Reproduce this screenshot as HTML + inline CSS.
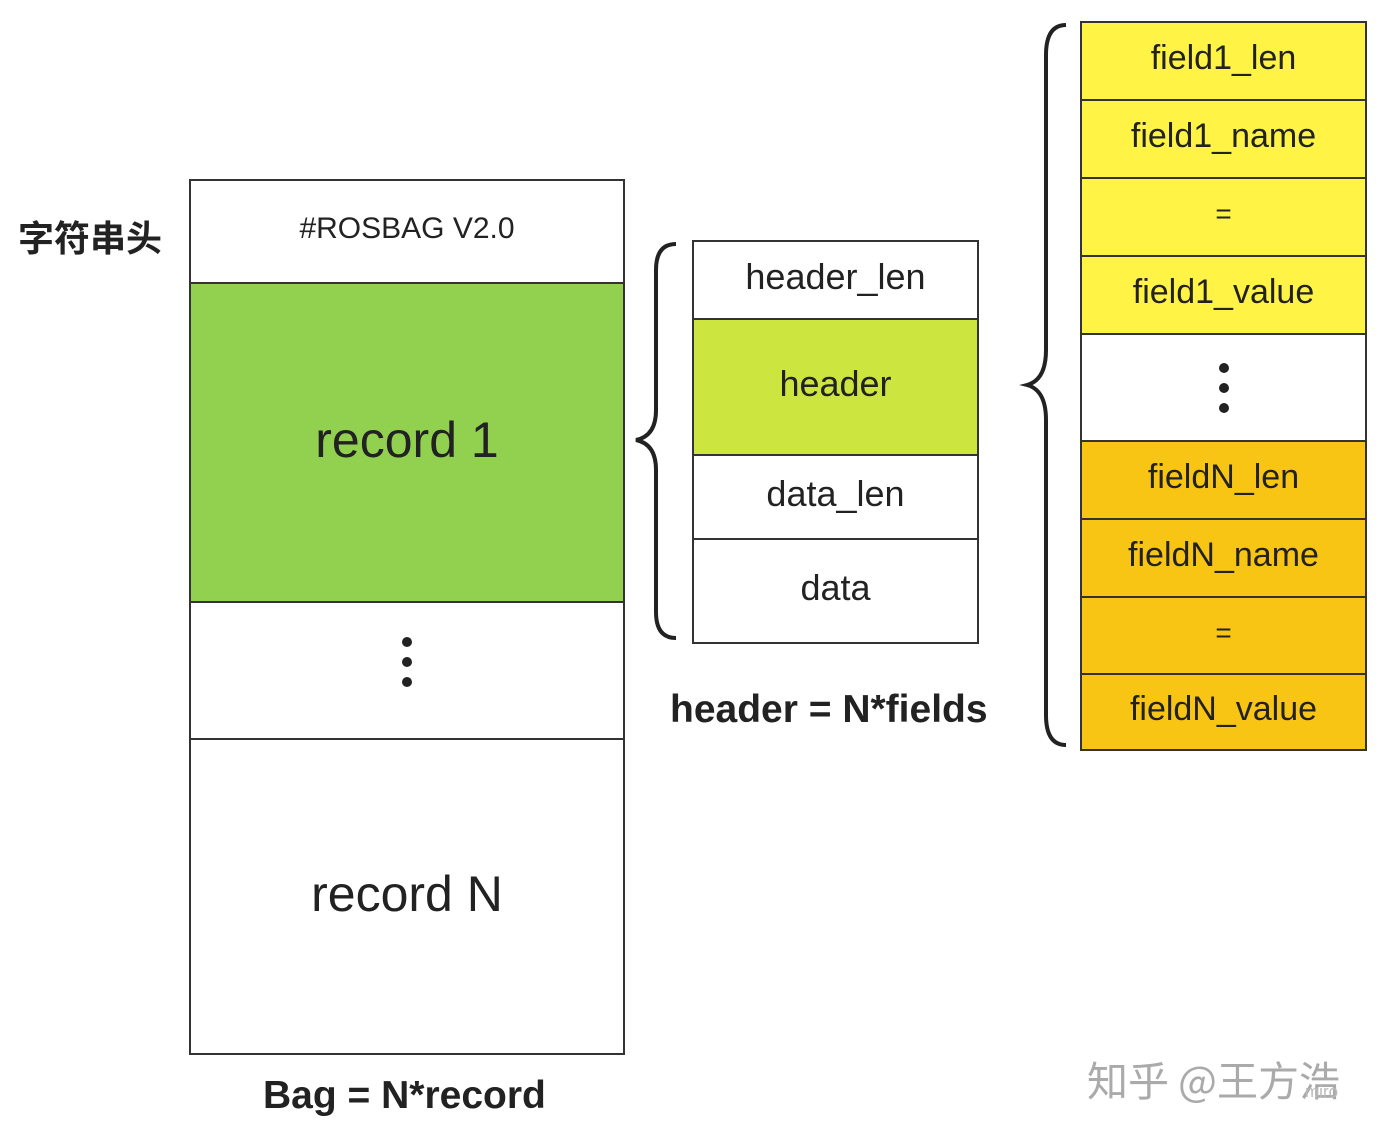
<!DOCTYPE html>
<html><head><meta charset="utf-8"><style>
body{margin:0;width:1380px;height:1131px;background:#fff;position:relative;overflow:hidden;font-family:"Liberation Sans","Noto Sans CJK SC",sans-serif;color:#222}
.b{position:absolute;box-sizing:border-box;border:2px solid #333;display:flex;align-items:center;justify-content:center;text-align:center;padding-bottom:6px}
.t{position:absolute;font-weight:bold;white-space:nowrap}
</style></head><body>
<div class="t" style="left:18px;top:210px;font-size:36px;color:#222">字符串头</div>
<div class="b" style="left:189px;top:179px;width:436px;height:105px;font-size:30px">#ROSBAG V2.0</div>
<div class="b" style="left:189px;top:282px;width:436px;height:321px;background:#92d050;font-size:50px">record 1</div>
<div class="b" style="left:189px;top:601px;width:436px;height:139px;padding-bottom:18px"><svg width="12" height="52"><circle cx="6" cy="6" r="5" fill="#222"/><circle cx="6" cy="26" r="5" fill="#222"/><circle cx="6" cy="46" r="5" fill="#222"/></svg></div>
<div class="b" style="left:189px;top:738px;width:436px;height:317px;font-size:50px">record N</div>
<div class="t" style="left:263px;top:1074px;font-size:39px">Bag = N*record</div>

<div class="b" style="left:692px;top:240px;width:287px;height:80px;font-size:36px">header_len</div>
<div class="b" style="left:692px;top:318px;width:287px;height:138px;background:#cde63f;font-size:36px">header</div>
<div class="b" style="left:692px;top:454px;width:287px;height:86px;font-size:36px">data_len</div>
<div class="b" style="left:692px;top:538px;width:287px;height:106px;font-size:36px">data</div>
<div class="t" style="left:670px;top:688px;font-size:39px">header = N*fields</div>

<div class="b" style="left:1080px;top:21px;width:287px;height:80px;background:#fff345;font-size:34px">field1_len</div>
<div class="b" style="left:1080px;top:99px;width:287px;height:80px;background:#fff345;font-size:34px">field1_name</div>
<div class="b" style="left:1080px;top:177px;width:287px;height:80px;background:#fff345;font-size:28px">=</div>
<div class="b" style="left:1080px;top:255px;width:287px;height:80px;background:#fff345;font-size:34px">field1_value</div>
<div class="b" style="left:1080px;top:333px;width:287px;height:109px;padding-bottom:0"><svg width="12" height="52"><circle cx="6" cy="6" r="5" fill="#222"/><circle cx="6" cy="26" r="5" fill="#222"/><circle cx="6" cy="46" r="5" fill="#222"/></svg></div>
<div class="b" style="left:1080px;top:440px;width:287px;height:80px;background:#f8c514;font-size:34px">fieldN_len</div>
<div class="b" style="left:1080px;top:518px;width:287px;height:80px;background:#f8c514;font-size:34px">fieldN_name</div>
<div class="b" style="left:1080px;top:596px;width:287px;height:79px;background:#f8c514;font-size:28px">=</div>
<div class="b" style="left:1080px;top:673px;width:287px;height:78px;background:#f8c514;font-size:34px">fieldN_value</div>

<svg style="position:absolute;left:0;top:0" width="1380" height="1131">
<path d="M676 244 Q656 244 656 270 L656 410 Q656 436 636 440 Q656 444 656 470 L656 612 Q656 638 676 638" fill="none" stroke="#222" stroke-width="4"/>
<path d="M1066 25 Q1046 25 1046 55 L1046 350 Q1046 380 1027 385 Q1046 390 1046 420 L1046 715 Q1046 745 1066 745" fill="none" stroke="#222" stroke-width="4"/>
</svg>
<div style="position:absolute;left:1087px;top:1048px;font-size:41px;color:#aaa;font-family:'Noto Sans CJK SC',sans-serif">知乎 @王方浩</div>
<div style="position:absolute;left:1305px;top:1082px;font-size:17px;color:#bbb">miro</div>
</body></html>
